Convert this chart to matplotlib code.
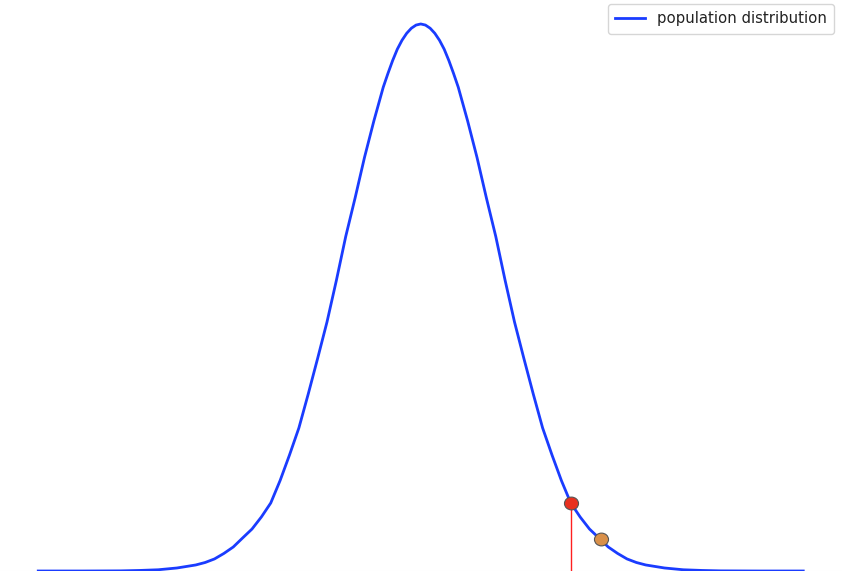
import matplotlib
matplotlib.use("Agg")
import matplotlib.pyplot as plt
from matplotlib.markers import MarkerStyle
from matplotlib.transforms import Affine2D

# right half of the curve, mirrored for the left half
x_half = [0.0, 0.0625, 0.125, 0.1875, 0.25, 0.3125, 0.375, 0.4375, 0.5,
          0.625, 0.75, 0.875, 1.0, 1.125, 1.25, 1.375, 1.5, 1.625, 1.75,
          1.875, 2.0, 2.125, 2.25, 2.375, 2.5, 2.625, 2.75, 2.875, 3.0,
          3.25, 3.5, 3.75, 4.0, 4.5, 5.1]
y_half = [0.3989, 0.3981, 0.3958, 0.3921, 0.3870, 0.3805, 0.3722, 0.3628,
          0.3528, 0.3282, 0.3016, 0.2721, 0.2440, 0.2119, 0.1816, 0.1550,
          0.1291, 0.1043, 0.0846, 0.0660, 0.0496, 0.0394, 0.0306, 0.0241,
          0.0175, 0.0128, 0.0088, 0.0062, 0.0044, 0.0022, 0.0009, 0.0004,
          0.0001, 0.0, 0.0]

x_vals = [-v for v in x_half[:0:-1]] + x_half
y_vals = y_half[:0:-1] + y_half

red_x, red_y = 2.0, 0.0496
orange_x, orange_y = 2.4, 0.0233

legend_label = "population distribution"

fig = plt.figure(figsize=(8.5, 5.88), dpi=100)
ax = fig.add_axes([0.0, 17 / 588, 841.5 / 850, 574.6 / 588])

ax.axhline(0, color="#eeeeee", lw=0.8, zorder=0)
ax.plot(x_vals, y_vals, color="#1a3cff", lw=2, label=legend_label, zorder=2)
ax.vlines(red_x, 0, red_y, color="#ff2020", lw=1.0, zorder=1)

ell = MarkerStyle("o", transform=Affine2D().scale(1.1, 1.0))
ax.plot([red_x], [red_y], linestyle="none", marker=ell, ms=9.2,
        markerfacecolor="#e8301f", markeredgecolor="#555555", mew=0.8, zorder=3)
ax.plot([orange_x], [orange_y], linestyle="none", marker=ell, ms=9.2,
        markerfacecolor="#d9904a", markeredgecolor="#555555", mew=0.8, zorder=3)

ax.set_xlim(-5.61, 5.61)
ax.set_ylim(0, 0.419)
ax.axis("off")
ax.legend(loc="upper right", fontsize=10.7, borderpad=0.5, labelcolor="#222222")

fig.savefig("out.png", dpi=100)
